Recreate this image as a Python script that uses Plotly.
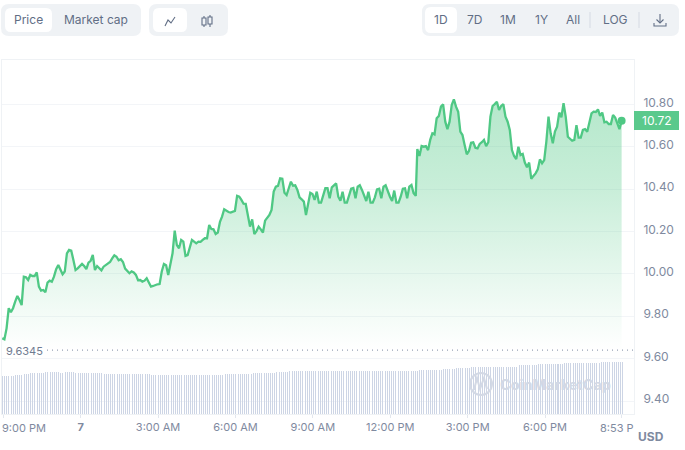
import numpy as np
import plotly.graph_objects as go

# Price, USD (about one value per 5 minutes)
price_overnight = [
 9.696,9.691,9.743,9.838,9.819,9.838,9.869,9.896,9.877,9.853,9.987,9.984,9.971,9.995,9.990,9.990,10.007,
 9.940,9.921,9.924,9.913,9.959,9.968,9.963,9.987,10.022,10.042,10.015,9.998,10.011,10.097,10.113,10.110,
 10.066,10.018,10.026,10.039,10.047,10.037,10.023,10.053,10.062,10.089,10.018,10.037,10.026,10.017,10.034,
 10.042,10.047,10.056,10.073,10.088,10.081,10.064,10.069,10.056,10.025,10.015,10.003,10.012,10.007,9.995,
 9.970,9.971,9.963,9.968,9.979,9.959,9.940,9.943,9.948,9.951,9.952,10.011,10.047,10.041,9.995,10.050,10.097,
 10.204,10.136,10.121,10.160,10.152,10.085,10.089,10.121,10.160,10.152,10.144,10.152,10.151,10.160,10.168,
 10.168,10.231,10.212,10.210,10.188,10.195,10.246]
price_midday = [
 10.270,10.305,10.297,10.292,10.289,10.294,10.297,10.368,10.364,10.349,10.331,10.330,10.278,10.223,10.257,
 10.188,10.202,10.223,10.210,10.195,10.251,10.265,10.278,10.302,10.388,10.411,10.415,10.451,10.449,10.383,
 10.372,10.404,10.435,10.416,10.418,10.396,10.361,10.352,10.341,10.278,10.333,10.383,10.377,10.349,10.388,
 10.336,10.336,10.372,10.404,10.404,10.357,10.408,10.419,10.427,10.364,10.345,10.388,10.336,10.336,10.364,
 10.402,10.405,10.357,10.411,10.418,10.396,10.372,10.344,10.388,10.336,10.336,10.361,10.399,10.402,10.357,
 10.411,10.418,10.388,10.364,10.344,10.393,10.336,10.336,10.364,10.402,10.404,10.357,10.411,10.419,10.380,10.368]
price_afternoon = [
 10.589,10.556,10.603,10.600,10.603,10.584,10.632,10.663,10.658,10.734,10.745,10.789,10.800,10.718,10.683,
 10.718,10.797,10.823,10.789,10.765,10.671,10.655,10.608,10.564,10.580,10.619,10.621,10.595,10.592,10.613,
 10.621,10.632,10.603,10.621,10.742,10.792,10.801,10.812,10.773,10.792,10.801,10.742,10.718,10.679,10.584,
 10.556,10.542,10.600,10.561,10.566,10.525,10.503,10.525,10.448,10.462,10.474,10.493,10.540,10.522,10.537,
 10.624,10.742,10.663,10.616,10.671,10.694,10.761,10.739,10.805,10.742,10.647,10.635,10.628,10.632,10.702,
 10.643,10.643,10.679,10.683,10.671,10.710,10.757,10.765,10.764,10.776,10.745,10.761,10.715,10.718,10.707,
 10.707,10.750,10.737,10.713,10.683,10.723]

# Hours since 9:00 PM at which each stretch starts and ends
overnight_span = (-0.04, 8.40)
midday_span = (8.48, 15.99)
afternoon_span = (16.05, 23.97)

# Volume bars as level + number of bars at that level
volume_levels = [38,39,40,41,42,41.3,42,41,40,39,40,41,42,43,43,44,45,46,46.7,48.7,49.7,50.7,51.7]
volume_runs = [6,4,3,7,7,2,5,13,22,34,13,11,6,24,36,11,6,7,22,9,12,17,11]
volume_step_hours = 0.0838

y_ticks = [10.8,10.6,10.4,10.2,10.0,9.8,9.6,9.4]
y_tick_labels = ["10.80","10.60","10.40","10.20","10.00","9.80","9.60","9.40"]
x_ticks = [-0.0,3,6,9,12,15,18,21,23.97]
x_tick_labels = ["","<b>7</b>","3:00 AM","6:00 AM","9:00 AM","12:00 PM","3:00 PM","6:00 PM",""]
open_label = "9.6345"
open_level = 9.64
last_label = "10.72"

GREEN = "#4fc884"
TXT = "#616e85"
AXT = "#7f8aa0"
PILL = "#eff2f5"
MARK = "#d3d9e5"

px_x = lambda v: (v - 2) / 632
px_y = lambda v: (414 - v) / 354


def rrect(x0, y0, x1, y1, r, fill):
    a, b, c, d = px_x(x0), px_y(y0), px_x(x1), px_y(y1)
    rx, ry = r / 632, r / 354
    path = (f"M{a+rx},{b} L{c-rx},{b} Q{c},{b} {c},{b-ry} L{c},{d+ry} Q{c},{d} {c-rx},{d} "
            f"L{a+rx},{d} Q{a},{d} {a},{d+ry} L{a},{b-ry} Q{a},{b} {a+rx},{b} Z")
    return dict(type="path", xref="paper", yref="paper", path=path, fillcolor=fill, line=dict(width=0), layer="above")


def stroke(points, color=TXT, width=1.1, close=False):
    p = "M" + " L".join(f"{px_x(a)},{px_y(b)}" for a, b in points) + (" Z" if close else "")
    return dict(type="path", xref="paper", yref="paper", path=p, line=dict(color=color, width=width), layer="above")


def label(x, y, text, size=12, color=TXT, anchor="center", family="Inter"):
    return dict(xref="paper", yref="paper", x=px_x(x), y=px_y(y), text=text, showarrow=False, xanchor=anchor,
                yanchor="middle", font=dict(size=size, color=color, family=family), borderpad=0, borderwidth=0)


price_x = np.concatenate([
    np.linspace(*overnight_span, len(price_overnight)),
    np.linspace(*midday_span, len(price_midday)),
    np.linspace(*afternoon_span, len(price_afternoon)),
])
price_y = np.array(price_overnight + price_midday + price_afternoon)
volume = np.repeat(volume_levels, volume_runs)
volume_x = -0.033 + np.arange(len(volume)) * volume_step_hours

fig = go.Figure()
fig.add_trace(go.Bar(x=volume_x, y=volume, width=0.0388, marker=dict(color="rgba(204,212,228,0.98)", line=dict(width=0)),
                     yaxis="y2", hoverinfo="skip"))
fig.add_trace(go.Scatter(x=price_x, y=[open_level] * len(price_x), mode="lines", line=dict(width=0), hoverinfo="skip"))
fig.add_trace(go.Scatter(
    x=price_x, y=price_y, mode="lines", line=dict(color=GREEN, width=2.3), fill="tonexty",
    fillgradient=dict(type="vertical", start=10.85, stop=9.64,
                      colorscale=[[0, "rgba(79,200,132,0.43)"], [0.37, "rgba(79,200,132,0.31)"],
                                  [0.69, "rgba(79,200,132,0.15)"], [0.85, "rgba(79,200,132,0.07)"],
                                  [1, "rgba(79,200,132,0)"]]),
    hoverinfo="skip"))
fig.add_trace(go.Scatter(x=[price_x[-1]], y=[price_y[-1]], mode="markers", marker=dict(color=GREEN, size=8),
                         cliponaxis=False, hoverinfo="skip"))

shapes = [
    dict(type="line", xref="paper", yref="y", x0=px_x(47), x1=1, y0=open_level, y1=open_level,
         line=dict(color="#98a2b5", width=1.2, dash="1px,4px"), layer="above"),
    dict(type="rect", xref="paper", yref="paper", x0=px_x(634), x1=px_x(679), y0=px_y(130), y1=px_y(111),
         fillcolor="#5ac98c", line=dict(width=0), layer="above"),
    rrect(1, 4, 141, 36, 8, PILL), rrect(5, 8, 52, 32, 6, "#ffffff"),
    rrect(149, 4, 228, 36, 8, PILL), rrect(153, 8, 187, 32, 6, "#ffffff"),
    rrect(422, 4, 679, 36, 8, PILL), rrect(425, 7, 457, 33, 6, "#ffffff"),
    stroke([(590, 12), (590, 28)], "#d5dae3", 1), stroke([(639, 12), (639, 28)], "#d5dae3", 1),
    stroke([(165, 26), (168, 20), (171, 23), (175, 17)]),
    stroke([(204, 16), (204, 18)]), stroke([(204, 25), (204, 27)]),
    stroke([(202, 18), (206, 18), (206, 25), (202, 25)], close=True),
    stroke([(210, 15), (210, 17)]), stroke([(210, 24), (210, 27)]),
    stroke([(208, 17), (212, 17), (212, 24), (208, 24)], close=True),
    stroke([(660, 14), (660, 23)]), stroke([(656.5, 19.5), (660, 23), (663.5, 19.5)]),
    stroke([(654, 23), (654, 26), (666, 26), (666, 23)]),
    dict(type="circle", xref="paper", yref="paper", x0=px_x(470), x1=px_x(492), y0=px_y(395), y1=px_y(373),
         line=dict(color=MARK, width=2), layer="above"),
    stroke([(474, 390), (477, 378), (480, 389), (484, 378), (487, 389)], MARK, 2),
]

annotations = [
    label(28, 20, "Price", 12), label(96, 20, "Market cap", 12),
    label(441, 20, "1D", 12), label(474, 20, "7D", 12), label(508, 20, "1M", 12), label(541, 20, "1Y", 12),
    label(573, 20, "All", 12), label(615, 20, "LOG", 12),
    label(6, 351, open_label, 11, "#6f7b91", "left"),
    label(656.5, 120.5, last_label, 12, "#ffffff"),
    label(2, 428, "9:00 PM", 11, AXT, "left"),
    label(600, 428, "8:53 P", 11, AXT, "left"),
    label(651, 437, "<b>USD</b>", 12, AXT),
    label(500, 384, "<b>CoinMarketCap</b>", 14.5, MARK, "left"),
]

fig.update_layout(
    width=685, height=450, margin=dict(l=2, r=51, t=60, b=36, pad=0), autosize=False,
    paper_bgcolor="#ffffff", plot_bgcolor="#ffffff", showlegend=False, bargap=0,
    font=dict(family="Inter", size=12, color=AXT),
    xaxis=dict(range=[-0.05, 24.45], tickmode="array", tickvals=x_ticks, ticktext=x_tick_labels, showgrid=False,
               zeroline=False, ticks="outside", ticklen=3, tickcolor="#e3e7ee", showline=True, linecolor=PILL,
               mirror=True, tickfont=dict(size=11, color=AXT, family="Inter")),
    yaxis=dict(range=[9.339, 11.009], side="right", tickmode="array", tickvals=y_ticks, ticktext=y_tick_labels,
               gridcolor="#f3f5f8", gridwidth=1, zeroline=False, showline=True, linecolor=PILL, mirror=True,
               ticks="", ticklabelstandoff=6, ticklabelshift=-2,
               tickfont=dict(size=12, color=AXT, family="Inter")),
    yaxis2=dict(range=[0, 354], overlaying="y", visible=False),
    shapes=shapes, annotations=annotations,
)

fig.write_html("out.html", config=dict(displayModeBar=False),
               post_script="document.body.style.margin='0';")
